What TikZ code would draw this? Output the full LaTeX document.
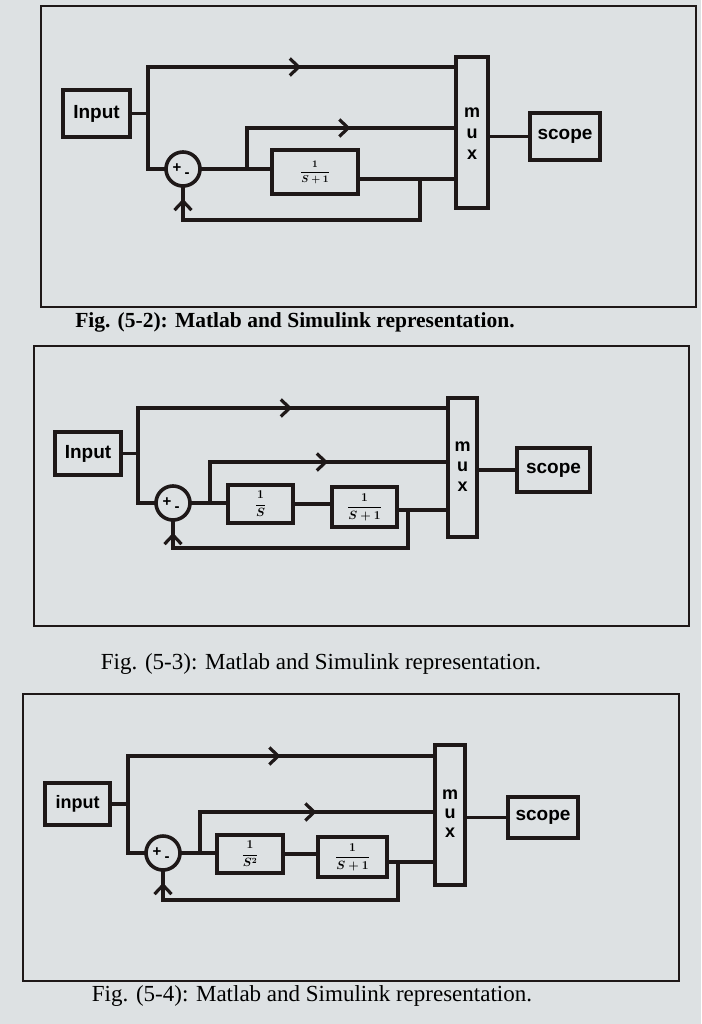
\documentclass[tikz,border=0pt]{standalone}
\usepackage{fontspec}
\setmainfont{Liberation Serif}
\setsansfont{Liberation Sans}
\usetikzlibrary{arrows.meta,decorations.markings,calc}
\definecolor{paper}{RGB}{221,225,227}
\definecolor{ink}{RGB}{30,24,24}
\begin{document}
\begin{tikzpicture}[x=1pt,y=-1pt,
  wire/.style={draw=ink, line width=3.6pt, line cap=rect},
  blk/.style={draw=ink, line width=3.6pt, inner sep=0pt, font=\sffamily\bfseries\fontsize{19}{19}\selectfont},
  fracbox/.style={draw=ink, line width=3.6pt, inner sep=0pt},
  sumc/.style={circle, draw=ink, line width=3.6pt, minimum size=34pt, inner sep=0pt},
  muxbox/.style={draw=ink, line width=3.6pt, inner sep=0pt},
  mlet/.style={font=\sffamily\bfseries\fontsize{18}{18}\selectfont, inner sep=0pt},
  sgn/.style={font=\sffamily\bfseries\fontsize{15}{15}\selectfont, inner sep=0pt},
  frm/.style={draw=ink, line width=2pt},
  midarrow/.style={postaction={decorate}, decoration={markings, mark=at position 0.5 with {\arrow[ink]{Straight Barb[length=9pt,width=17pt,line width=3.2pt]}}}},
  fbarrow/.style={postaction={decorate}, decoration={markings, mark=at position -11pt with {\arrow[ink]{Straight Barb[length=9pt,width=17pt,line width=3.2pt]}}}}
]
\path[fill=paper] (0,0) rectangle (701,1024);
\useasboundingbox (0,0) rectangle (701,1024);

% ---------------- Figure 5-2 ----------------
\draw[frm] (41,6) rectangle (696,307);
\node[blk, minimum width=67pt, minimum height=47pt] (in1) at (96.5,113.5) {Input};
\node[sumc] (sum1) at (183,169) {};
\node[sgn] (p1) at ($(sum1)+(-6,-1)$) {+};
\node[sgn] (n1) at ($(sum1)+(4,6)$) {-};
\node[fracbox, minimum width=86pt, minimum height=44pt, font=\boldmath\fontsize{10}{10}\selectfont] (g1) at (315,172) {$\displaystyle\frac{1}{S+1}$};
\node[muxbox, minimum width=32pt, minimum height=151pt] (mux1) at (472,132.5) {};
\node[mlet] (mm1) at (472,113) {m};
\node[mlet] (mu1) at (472,134) {u};
\node[mlet] (mx1) at (472,155) {x};
\node[blk, minimum width=70pt, minimum height=47pt] (sc1) at (565,136.5) {scope};
\coordinate (j1) at (148,113.5);
\coordinate (t1) at (148,67);
\coordinate (t2) at (247,128);
\coordinate (f1) at (420,179);
\draw[wire] (in1.east) -- (j1);
\draw[wire] (t1) -- (t1 |- sum1) -- (sum1.west);
\draw[wire, midarrow] (t1) -- (t1 -| mux1.west);
\draw[wire] (sum1.east) -- (sum1.east -| g1.west);
\draw[wire] (t2) -- (t2 |- sum1);
\draw[wire, midarrow] (t2) -- (t2 -| mux1.west);
\draw[wire] ([yshift=-7pt]g1.east) -- ([yshift=-7pt]g1.east -| mux1.west);
\draw[wire, fbarrow] (f1) -- (f1 |- 0,220) -| (sum1.south);
\draw[wire] (sc1.west -| mux1.east) -- (sc1.west);
\node[font=\bfseries\fontsize{21.5}{21.5}\selectfont, inner sep=0pt] (cap1) at (295,322) {Fig. (5-2): Matlab and Simulink representation.};

% ---------------- Figure 5-3 ----------------
\draw[frm] (34,346) rectangle (689,626);
\node[blk, minimum width=66pt, minimum height=43pt] (in2) at (88,453.5) {Input};
\node[sumc] (sum2) at (173,503) {};
\node[sgn] (p2) at ($(sum2)+(-6,-1)$) {+};
\node[sgn] (n2) at ($(sum2)+(4,6)$) {-};
\node[fracbox, minimum width=65pt, minimum height=38pt, font=\boldmath\fontsize{12}{12}\selectfont] (ga2) at (260.5,504) {$\displaystyle\frac{1}{S}$};
\node[fracbox, minimum width=65pt, minimum height=40pt, font=\boldmath\fontsize{12}{12}\selectfont] (gb2) at (364.5,507) {$\displaystyle\frac{1}{S+1}$};
\node[muxbox, minimum width=29pt, minimum height=139pt] (mux2) at (462.5,467.5) {};
\node[mlet] (mm2) at (462.5,447) {m};
\node[mlet] (mu2) at (462.5,467) {u};
\node[mlet] (mx2) at (462.5,487) {x};
\node[blk, minimum width=73pt, minimum height=44pt] (sc2) at (553.5,470) {scope};
\coordinate (j2) at (138,453.5);
\coordinate (t3) at (138,408);
\coordinate (t4) at (210,462);
\coordinate (f2) at (408,510);
\draw[wire] (in2.east) -- (j2);
\draw[wire] (t3) -- (t3 |- sum2) -- (sum2.west);
\draw[wire, midarrow] (t3) -- (t3 -| mux2.west);
\draw[wire] (sum2.east) -- (sum2.east -| ga2.west);
\draw[wire] (t4) -- (t4 |- sum2);
\draw[wire, midarrow] (t4) -- (t4 -| mux2.west);
\draw[wire] (ga2.east) -- (ga2.east -| gb2.west);
\draw[wire] ([yshift=-3pt]gb2.east) -- ([yshift=-3pt]gb2.east -| mux2.west);
\draw[wire, fbarrow] (f2) -- (f2 |- 0,548) -| (sum2.south);
\draw[wire] (sc2.west -| mux2.east) -- (sc2.west);
\node[font=\fontsize{23}{23}\selectfont, inner sep=0pt] (cap2) at (321,664) {Fig. (5-3): Matlab and Simulink representation.};

% ---------------- Figure 5-4 ----------------
\draw[frm] (23,694) rectangle (679,981);
\node[blk, minimum width=65pt, minimum height=42pt, font=\sffamily\bfseries\fontsize{18}{18}\selectfont] (in3) at (77.5,804) {input};
\node[sumc] (sum3) at (163,853) {};
\node[sgn] (p3) at ($(sum3)+(-6,-1)$) {+};
\node[sgn] (n3) at ($(sum3)+(4,6)$) {-};
\node[fracbox, minimum width=66pt, minimum height=38pt, font=\boldmath\fontsize{11.5}{11.5}\selectfont] (ga3) at (250,854) {$\displaystyle\frac{1}{S^2}$};
\node[fracbox, minimum width=69pt, minimum height=40pt, font=\boldmath\fontsize{11.5}{11.5}\selectfont] (gb3) at (352.5,857) {$\displaystyle\frac{1}{S+1}$};
\node[muxbox, minimum width=30pt, minimum height=140pt] (mux3) at (450,815) {};
\node[mlet] (mm3) at (450,795) {m};
\node[mlet] (mu3) at (450,814) {u};
\node[mlet] (mx3) at (450,833) {x};
\node[blk, minimum width=70pt, minimum height=41pt] (sc3) at (543,817.5) {scope};
\coordinate (j3) at (128,804);
\coordinate (t5) at (128,756);
\coordinate (t6) at (200,812);
\coordinate (f3) at (398,862);
\draw[wire] (in3.east) -- (j3);
\draw[wire] (t5) -- (t5 |- sum3) -- (sum3.west);
\draw[wire, midarrow] (t5) -- (t5 -| mux3.west);
\draw[wire] (sum3.east) -- (sum3.east -| ga3.west);
\draw[wire] (t6) -- (t6 |- sum3);
\draw[wire, midarrow] (t6) -- (t6 -| mux3.west);
\draw[wire] (ga3.east) -- (ga3.east -| gb3.west);
\draw[wire] ([yshift=-5pt]gb3.east) -- ([yshift=-5pt]gb3.east -| mux3.west);
\draw[wire, fbarrow] (f3) -- (f3 |- 0,900) -| (sum3.south);
\draw[wire] (sc3.west -| mux3.east) -- (sc3.west);
\node[font=\fontsize{23}{23}\selectfont, inner sep=0pt] (cap3) at (312,996) {Fig. (5-4): Matlab and Simulink representation.};
\end{tikzpicture}
\end{document}
